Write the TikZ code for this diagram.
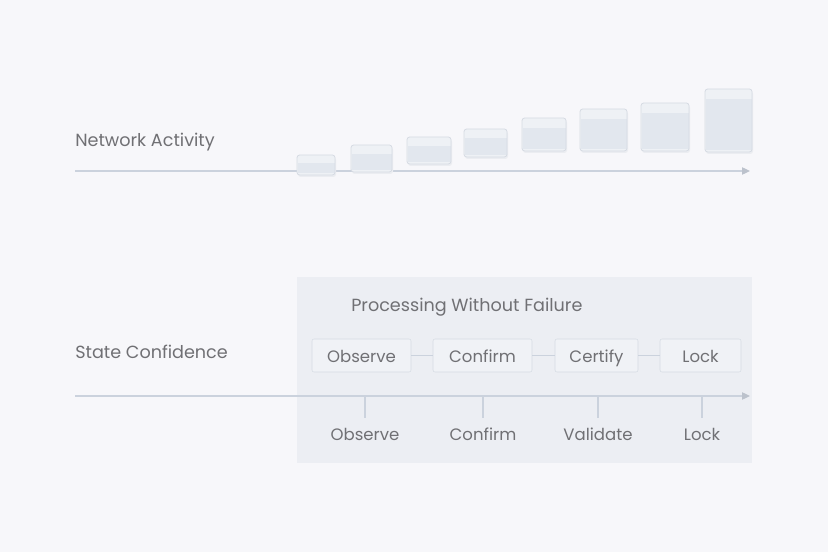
\documentclass[tikz,border=0pt]{standalone}
\usepackage{fontspec}
\setmainfont{Poppins}
\usetikzlibrary{arrows.meta}
\definecolor{bgcol}{RGB}{247,247,250}
\definecolor{txtcol}{RGB}{112,112,116}
\definecolor{axiscol}{RGB}{203,210,221}
\definecolor{tipcol}{RGB}{188,194,204}
\definecolor{barfill}{RGB}{226,231,238}
\definecolor{barhead}{RGB}{238,241,245}
\definecolor{barline}{RGB}{214,219,227}
\definecolor{panelcol}{RGB}{236,238,243}
\definecolor{boxfill}{RGB}{240,242,246}

\begin{document}
\begin{tikzpicture}[x=0.75pt,y=0.75pt,yscale=-1,xscale=1,
  lbl/.style={text=txtcol,font=\fontsize{13.2}{15}\selectfont,inner sep=0pt},
  small/.style={text=txtcol,font=\fontsize{12.4}{14}\selectfont,text height=11pt,text depth=0.5pt},
  axisline/.style={draw=axiscol,line width=0.9pt,-{Triangle[length=6pt,width=5.5pt,color=tipcol]}},
  stagebox/.style={small,draw=barline,fill=boxfill,rounded corners=1.5pt,minimum height=24.75pt,inner sep=0pt},
  tickline/.style={draw=axiscol,line width=0.9pt}]
\useasboundingbox (0,0) rectangle (828,552);
\fill[bgcol] (0,0) rectangle (828,552);

%Network activity row
\node[lbl,anchor=west] (netlbl) at (75,142) {Network Activity};
\coordinate (na) at (75,171);
\coordinate (nb) at (750,171);
\draw[axisline] (na) -- (nb);

%Bars
\foreach \xa/\xb/\ya/\yh/\yb in {297/335/155/163/175,351/392/145/154/172,407/451/137/146/164,464/507/129/138/157,522/566/118/128/151,580/627/109/119/151,641/689/103/113/151,705/752/89/99/152}{
  \fill[barline!50,rounded corners=2pt] (\xa+1,\ya+2) rectangle (\xb+1,\yb+2);
  \fill[barhead,rounded corners=2pt] (\xa,\ya) rectangle (\xb,\yb);
  \fill[barfill] (\xa+0.5,\yh) rectangle (\xb-0.5,\yb-1.5);
  \draw[barline,rounded corners=2pt,line width=0.6pt] (\xa,\ya) rectangle (\xb,\yb);
}

%State confidence row
\fill[panelcol] (297,277) rectangle (752,463);
\node[lbl,anchor=west] (statelbl) at (75,352) {State Confidence};
\node[lbl,anchor=west] (title) at (351,307) {Processing Without Failure};

\node[stagebox,minimum width=74.25pt] (obs) at (361.5,355.5) {Observe};
\node[stagebox,minimum width=74.25pt] (conf) at (482.5,355.5) {Confirm};
\node[stagebox,minimum width=62.25pt] (cert) at (596.5,355.5) {Certify};
\node[stagebox,minimum width=60.75pt] (lock) at (700.5,355.5) {Lock};
\draw[tickline] (obs) -- (conf);
\draw[tickline] (conf) -- (cert);
\draw[tickline] (cert) -- (lock);

\coordinate (sa) at (75,396);
\coordinate (sb) at (750,396);
\draw[axisline] (sa) -- (sb);

%Ticks and labels
\foreach \x/\name/\txt in {365/t1/Observe,483/t2/Confirm,598/t3/Validate,702/t4/Lock}{
  \coordinate (\name) at (\x,396);
  \draw[tickline] (\name) -- ++(0,22);
  \node[small] (\name l) at (\x,433) {\txt};
}
\end{tikzpicture}
\end{document}
